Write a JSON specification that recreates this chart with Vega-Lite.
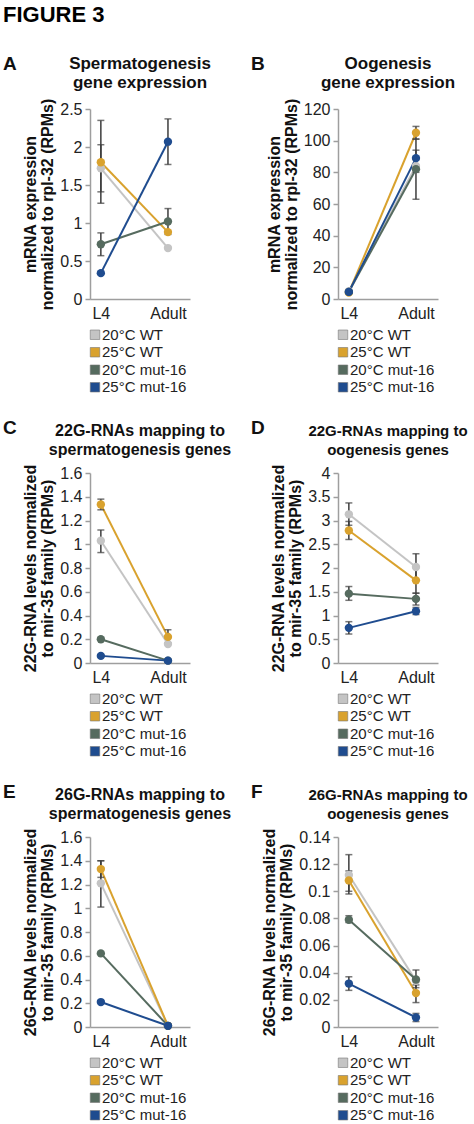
{
  "$schema": "https://vega.github.io/schema/vega-lite/v6.json",
  "title": {"text": "FIGURE 3", "anchor": "start", "fontSize": 22, "fontWeight": "bold", "offset": 28, "color": "#000"},
  "padding": {"left": 3, "top": 4, "right": 0, "bottom": 5},
  "columns": 4,
  "bounds": "flush",
  "align": "each",
  "spacing": {"row": 27, "column": 61},
  "resolve": {
    "scale": {"color": "independent", "stroke": "independent", "y": "independent", "x": "independent"}
  },
  "datasets": {
    "groups": [
      {"group": "20°C WT"},
      {"group": "25°C WT"},
      {"group": "20°C mut-16"},
      {"group": "25°C mut-16"}
    ],
    "a": [
      {"stage": "L4", "group": "20°C WT", "value": 1.72, "lo": 1.41, "hi": 2.03},
      {"stage": "Adult", "group": "20°C WT", "value": 0.67},
      {"stage": "L4", "group": "25°C WT", "value": 1.8, "lo": 1.26, "hi": 2.35},
      {"stage": "Adult", "group": "25°C WT", "value": 0.88},
      {"stage": "L4", "group": "20°C mut-16", "value": 0.72, "lo": 0.57, "hi": 0.87},
      {"stage": "Adult", "group": "20°C mut-16", "value": 1.02, "lo": 0.85, "hi": 1.19},
      {"stage": "L4", "group": "25°C mut-16", "value": 0.34},
      {"stage": "Adult", "group": "25°C mut-16", "value": 2.07, "lo": 1.77, "hi": 2.37}
    ],
    "b": [
      {"stage": "L4", "group": "20°C WT", "value": 5},
      {"stage": "Adult", "group": "20°C WT", "value": 84, "lo": 80, "hi": 88},
      {"stage": "L4", "group": "25°C WT", "value": 4},
      {"stage": "Adult", "group": "25°C WT", "value": 105, "lo": 101, "hi": 109},
      {"stage": "L4", "group": "20°C mut-16", "value": 4.5},
      {"stage": "Adult", "group": "20°C mut-16", "value": 82, "lo": 63, "hi": 101},
      {"stage": "L4", "group": "25°C mut-16", "value": 4.5},
      {"stage": "Adult", "group": "25°C mut-16", "value": 89, "lo": 84, "hi": 94}
    ],
    "c": [
      {"stage": "L4", "group": "20°C WT", "value": 1.03, "lo": 0.93, "hi": 1.12},
      {"stage": "Adult", "group": "20°C WT", "value": 0.16},
      {"stage": "L4", "group": "25°C WT", "value": 1.335, "lo": 1.29, "hi": 1.38},
      {"stage": "Adult", "group": "25°C WT", "value": 0.22, "lo": 0.17, "hi": 0.28},
      {"stage": "L4", "group": "20°C mut-16", "value": 0.2},
      {"stage": "Adult", "group": "20°C mut-16", "value": 0.02},
      {"stage": "L4", "group": "25°C mut-16", "value": 0.06},
      {"stage": "Adult", "group": "25°C mut-16", "value": 0.02}
    ],
    "d": [
      {"stage": "L4", "group": "20°C WT", "value": 3.13, "lo": 2.9, "hi": 3.37},
      {"stage": "Adult", "group": "20°C WT", "value": 2.02, "lo": 1.75, "hi": 2.3},
      {"stage": "L4", "group": "25°C WT", "value": 2.79, "lo": 2.6, "hi": 2.98},
      {"stage": "Adult", "group": "25°C WT", "value": 1.74, "lo": 1.47, "hi": 2.01},
      {"stage": "L4", "group": "20°C mut-16", "value": 1.46, "lo": 1.32, "hi": 1.61},
      {"stage": "Adult", "group": "20°C mut-16", "value": 1.35, "lo": 1.22, "hi": 1.47},
      {"stage": "L4", "group": "25°C mut-16", "value": 0.74, "lo": 0.61, "hi": 0.87},
      {"stage": "Adult", "group": "25°C mut-16", "value": 1.09, "lo": 1.02, "hi": 1.17}
    ],
    "e": [
      {"stage": "L4", "group": "20°C WT", "value": 1.21, "lo": 1.01, "hi": 1.4},
      {"stage": "Adult", "group": "20°C WT", "value": 0.01},
      {"stage": "L4", "group": "25°C WT", "value": 1.33, "lo": 1.26, "hi": 1.4},
      {"stage": "Adult", "group": "25°C WT", "value": 0.01},
      {"stage": "L4", "group": "20°C mut-16", "value": 0.62},
      {"stage": "Adult", "group": "20°C mut-16", "value": 0.01},
      {"stage": "L4", "group": "25°C mut-16", "value": 0.21},
      {"stage": "Adult", "group": "25°C mut-16", "value": 0.01}
    ],
    "f": [
      {"stage": "L4", "group": "20°C WT", "value": 0.112, "lo": 0.098, "hi": 0.127},
      {"stage": "Adult", "group": "20°C WT", "value": 0.034},
      {"stage": "L4", "group": "25°C WT", "value": 0.108, "lo": 0.1, "hi": 0.115},
      {"stage": "Adult", "group": "25°C WT", "value": 0.025, "lo": 0.018, "hi": 0.031},
      {"stage": "L4", "group": "20°C mut-16", "value": 0.079, "lo": 0.077, "hi": 0.082},
      {"stage": "Adult", "group": "20°C mut-16", "value": 0.035, "lo": 0.029, "hi": 0.042},
      {"stage": "L4", "group": "25°C mut-16", "value": 0.032, "lo": 0.027, "hi": 0.037},
      {"stage": "Adult", "group": "25°C mut-16", "value": 0.007, "lo": 0.004, "hi": 0.01}
    ],
    "blank": [{"k": 1}]
  },
  "concat": [
    {"width": 26, "height": 190, "data": {"name": "blank"}, "title": {"text": "A", "anchor": "start", "fontSize": 19, "offset": 35}, "mark": "text", "encoding": {"text": {"value": ""}}},
    {
      "width": 100, "height": 190,
      "title": {"text": ["Spermatogenesis", "gene expression"], "fontSize": 17},
      "data": {"name": "a"},
      "encoding": {"x": {"field": "stage", "type": "ordinal", "sort": ["L4", "Adult"], "title": null, "scale": {"type": "point", "padding": 0.245, "align": 0.33}}},
      "layer": [
        {"mark": {"type": "line", "strokeWidth": 2}, "encoding": {
          "y": {"field": "value", "type": "quantitative", "title": ["mRNA expression", "normalized to rpl-32 (RPMs)"], "scale": {"domain": [0, 2.5], "nice": false}, "axis": {"values": [0, 0.5, 1, 1.5, 2, 2.5], "labelOverlap": false, "format": "~r"}},
          "stroke": {"field": "group", "type": "nominal", "legend": null, "scale": {"domain": ["20°C WT", "25°C WT", "20°C mut-16", "25°C mut-16"], "range": ["#c4c4c4", "#d9a22e", "#566b5f", "#1f4c8f"]}}}},
        {"transform": [{"filter": "isValid(datum.lo)"}], "mark": {"type": "errorbar", "ticks": true, "size": 7, "thickness": 1.5, "color": "#3d3d3d"}, "encoding": {
          "y": {"field": "lo", "type": "quantitative", "title": ["mRNA expression", "normalized to rpl-32 (RPMs)"], "axis": {"values": [0, 0.5, 1, 1.5, 2, 2.5], "labelOverlap": false, "format": "~r"}},
          "y2": {"field": "hi"}}},
        {"mark": {"type": "circle", "size": 70, "opacity": 1}, "encoding": {
          "y": {"field": "value", "type": "quantitative", "title": ["mRNA expression", "normalized to rpl-32 (RPMs)"], "axis": {"values": [0, 0.5, 1, 1.5, 2, 2.5], "labelOverlap": false, "format": "~r"}},
          "color": {"field": "group", "type": "nominal", "legend": null, "scale": {"domain": ["20°C WT", "25°C WT", "20°C mut-16", "25°C mut-16"], "range": ["#c4c4c4", "#d9a22e", "#566b5f", "#1f4c8f"]}}}}
      ]
    },
    {"width": 26, "height": 190, "data": {"name": "blank"}, "title": {"text": "B", "anchor": "start", "fontSize": 19, "offset": 35}, "mark": "text", "encoding": {"text": {"value": ""}}},
    {
      "width": 100, "height": 190,
      "title": {"text": ["Oogenesis", "gene expression"], "fontSize": 17},
      "data": {"name": "b"},
      "encoding": {"x": {"field": "stage", "type": "ordinal", "sort": ["L4", "Adult"], "title": null, "scale": {"type": "point", "padding": 0.245, "align": 0.33}}},
      "layer": [
        {"mark": {"type": "line", "strokeWidth": 2}, "encoding": {
          "y": {"field": "value", "type": "quantitative", "title": ["mRNA expression", "normalized to rpl-32 (RPMs)"], "scale": {"domain": [0, 120], "nice": false}, "axis": {"values": [0, 20, 40, 60, 80, 100, 120], "labelOverlap": false, "format": "~r"}},
          "stroke": {"field": "group", "type": "nominal", "legend": null, "scale": {"domain": ["20°C WT", "25°C WT", "20°C mut-16", "25°C mut-16"], "range": ["#c4c4c4", "#d9a22e", "#566b5f", "#1f4c8f"]}}}},
        {"transform": [{"filter": "isValid(datum.lo)"}], "mark": {"type": "errorbar", "ticks": true, "size": 7, "thickness": 1.5, "color": "#3d3d3d"}, "encoding": {
          "y": {"field": "lo", "type": "quantitative", "title": ["mRNA expression", "normalized to rpl-32 (RPMs)"], "axis": {"values": [0, 20, 40, 60, 80, 100, 120], "labelOverlap": false, "format": "~r"}},
          "y2": {"field": "hi"}}},
        {"mark": {"type": "circle", "size": 70, "opacity": 1}, "encoding": {
          "y": {"field": "value", "type": "quantitative", "title": ["mRNA expression", "normalized to rpl-32 (RPMs)"], "axis": {"values": [0, 20, 40, 60, 80, 100, 120], "labelOverlap": false, "format": "~r"}},
          "color": {"field": "group", "type": "nominal", "legend": null, "scale": {"domain": ["20°C WT", "25°C WT", "20°C mut-16", "25°C mut-16"], "range": ["#c4c4c4", "#d9a22e", "#566b5f", "#1f4c8f"]}}}}
      ]
    },
    {"width": 26, "height": 120, "data": {"name": "blank"}, "mark": "text", "encoding": {"text": {"value": ""}}},
    {
      "width": 10, "height": 70,
      "data": {"name": "groups"},
      "encoding": {"y": {"field": "group", "type": "nominal", "axis": null, "sort": null, "scale": {"type": "point", "domain": ["20°C WT", "25°C WT", "20°C mut-16", "25°C mut-16"], "padding": 0.5, "align": 0.5}}},
      "layer": [
        {"mark": {"type": "square", "size": 90, "filled": true, "opacity": 1, "stroke": "#777", "strokeWidth": 0.6}, "encoding": {"color": {"field": "group", "type": "nominal", "legend": null, "scale": {"domain": ["20°C WT", "25°C WT", "20°C mut-16", "25°C mut-16"], "range": ["#c4c4c4", "#d9a22e", "#566b5f", "#1f4c8f"]}}}},
        {"mark": {"type": "text", "align": "left", "baseline": "middle", "dx": 7, "fontSize": 15, "color": "#222"}, "encoding": {"text": {"field": "group"}}}
      ]
    },
    {"width": 26, "height": 120, "data": {"name": "blank"}, "mark": "text", "encoding": {"text": {"value": ""}}},
    {
      "width": 10, "height": 70,
      "data": {"name": "groups"},
      "encoding": {"y": {"field": "group", "type": "nominal", "axis": null, "sort": null, "scale": {"type": "point", "domain": ["20°C WT", "25°C WT", "20°C mut-16", "25°C mut-16"], "padding": 0.5, "align": 0.5}}},
      "layer": [
        {"mark": {"type": "square", "size": 90, "filled": true, "opacity": 1, "stroke": "#777", "strokeWidth": 0.6}, "encoding": {"color": {"field": "group", "type": "nominal", "legend": null, "scale": {"domain": ["20°C WT", "25°C WT", "20°C mut-16", "25°C mut-16"], "range": ["#c4c4c4", "#d9a22e", "#566b5f", "#1f4c8f"]}}}},
        {"mark": {"type": "text", "align": "left", "baseline": "middle", "dx": 7, "fontSize": 15, "color": "#222"}, "encoding": {"text": {"field": "group"}}}
      ]
    },
    {"width": 26, "height": 190, "data": {"name": "blank"}, "title": {"text": "C", "anchor": "start", "fontSize": 19, "offset": 35}, "mark": "text", "encoding": {"text": {"value": ""}}},
    {
      "width": 100, "height": 190,
      "title": {"text": ["22G-RNAs mapping to", "spermatogenesis genes"], "fontSize": 16},
      "data": {"name": "c"},
      "encoding": {"x": {"field": "stage", "type": "ordinal", "sort": ["L4", "Adult"], "title": null, "scale": {"type": "point", "padding": 0.245, "align": 0.33}}},
      "layer": [
        {"mark": {"type": "line", "strokeWidth": 2}, "encoding": {
          "y": {"field": "value", "type": "quantitative", "title": ["22G-RNA levels normalized", "to mir-35 family (RPMs)"], "scale": {"domain": [0, 1.6], "nice": false}, "axis": {"values": [0, 0.2, 0.4, 0.6, 0.8, 1, 1.2, 1.4, 1.6], "labelOverlap": false, "format": "~r"}},
          "stroke": {"field": "group", "type": "nominal", "legend": null, "scale": {"domain": ["20°C WT", "25°C WT", "20°C mut-16", "25°C mut-16"], "range": ["#c4c4c4", "#d9a22e", "#566b5f", "#1f4c8f"]}}}},
        {"transform": [{"filter": "isValid(datum.lo)"}], "mark": {"type": "errorbar", "ticks": true, "size": 7, "thickness": 1.5, "color": "#3d3d3d"}, "encoding": {
          "y": {"field": "lo", "type": "quantitative", "title": ["22G-RNA levels normalized", "to mir-35 family (RPMs)"], "axis": {"values": [0, 0.2, 0.4, 0.6, 0.8, 1, 1.2, 1.4, 1.6], "labelOverlap": false, "format": "~r"}},
          "y2": {"field": "hi"}}},
        {"mark": {"type": "circle", "size": 70, "opacity": 1}, "encoding": {
          "y": {"field": "value", "type": "quantitative", "title": ["22G-RNA levels normalized", "to mir-35 family (RPMs)"], "axis": {"values": [0, 0.2, 0.4, 0.6, 0.8, 1, 1.2, 1.4, 1.6], "labelOverlap": false, "format": "~r"}},
          "color": {"field": "group", "type": "nominal", "legend": null, "scale": {"domain": ["20°C WT", "25°C WT", "20°C mut-16", "25°C mut-16"], "range": ["#c4c4c4", "#d9a22e", "#566b5f", "#1f4c8f"]}}}}
      ]
    },
    {"width": 26, "height": 190, "data": {"name": "blank"}, "title": {"text": "D", "anchor": "start", "fontSize": 19, "offset": 35}, "mark": "text", "encoding": {"text": {"value": ""}}},
    {
      "width": 100, "height": 190,
      "title": {"text": ["22G-RNAs mapping to", "oogenesis genes"], "fontSize": 15},
      "data": {"name": "d"},
      "encoding": {"x": {"field": "stage", "type": "ordinal", "sort": ["L4", "Adult"], "title": null, "scale": {"type": "point", "padding": 0.245, "align": 0.33}}},
      "layer": [
        {"mark": {"type": "line", "strokeWidth": 2}, "encoding": {
          "y": {"field": "value", "type": "quantitative", "title": ["22G-RNA levels normalized", "to mir-35 family (RPMs)"], "scale": {"domain": [0, 4], "nice": false}, "axis": {"values": [0, 0.5, 1, 1.5, 2, 2.5, 3, 3.5, 4], "labelOverlap": false, "format": "~r"}},
          "stroke": {"field": "group", "type": "nominal", "legend": null, "scale": {"domain": ["20°C WT", "25°C WT", "20°C mut-16", "25°C mut-16"], "range": ["#c4c4c4", "#d9a22e", "#566b5f", "#1f4c8f"]}}}},
        {"transform": [{"filter": "isValid(datum.lo)"}], "mark": {"type": "errorbar", "ticks": true, "size": 7, "thickness": 1.5, "color": "#3d3d3d"}, "encoding": {
          "y": {"field": "lo", "type": "quantitative", "title": ["22G-RNA levels normalized", "to mir-35 family (RPMs)"], "axis": {"values": [0, 0.5, 1, 1.5, 2, 2.5, 3, 3.5, 4], "labelOverlap": false, "format": "~r"}},
          "y2": {"field": "hi"}}},
        {"mark": {"type": "circle", "size": 70, "opacity": 1}, "encoding": {
          "y": {"field": "value", "type": "quantitative", "title": ["22G-RNA levels normalized", "to mir-35 family (RPMs)"], "axis": {"values": [0, 0.5, 1, 1.5, 2, 2.5, 3, 3.5, 4], "labelOverlap": false, "format": "~r"}},
          "color": {"field": "group", "type": "nominal", "legend": null, "scale": {"domain": ["20°C WT", "25°C WT", "20°C mut-16", "25°C mut-16"], "range": ["#c4c4c4", "#d9a22e", "#566b5f", "#1f4c8f"]}}}}
      ]
    },
    {"width": 26, "height": 120, "data": {"name": "blank"}, "mark": "text", "encoding": {"text": {"value": ""}}},
    {
      "width": 10, "height": 70,
      "data": {"name": "groups"},
      "encoding": {"y": {"field": "group", "type": "nominal", "axis": null, "sort": null, "scale": {"type": "point", "domain": ["20°C WT", "25°C WT", "20°C mut-16", "25°C mut-16"], "padding": 0.5, "align": 0.5}}},
      "layer": [
        {"mark": {"type": "square", "size": 90, "filled": true, "opacity": 1, "stroke": "#777", "strokeWidth": 0.6}, "encoding": {"color": {"field": "group", "type": "nominal", "legend": null, "scale": {"domain": ["20°C WT", "25°C WT", "20°C mut-16", "25°C mut-16"], "range": ["#c4c4c4", "#d9a22e", "#566b5f", "#1f4c8f"]}}}},
        {"mark": {"type": "text", "align": "left", "baseline": "middle", "dx": 7, "fontSize": 15, "color": "#222"}, "encoding": {"text": {"field": "group"}}}
      ]
    },
    {"width": 26, "height": 120, "data": {"name": "blank"}, "mark": "text", "encoding": {"text": {"value": ""}}},
    {
      "width": 10, "height": 70,
      "data": {"name": "groups"},
      "encoding": {"y": {"field": "group", "type": "nominal", "axis": null, "sort": null, "scale": {"type": "point", "domain": ["20°C WT", "25°C WT", "20°C mut-16", "25°C mut-16"], "padding": 0.5, "align": 0.5}}},
      "layer": [
        {"mark": {"type": "square", "size": 90, "filled": true, "opacity": 1, "stroke": "#777", "strokeWidth": 0.6}, "encoding": {"color": {"field": "group", "type": "nominal", "legend": null, "scale": {"domain": ["20°C WT", "25°C WT", "20°C mut-16", "25°C mut-16"], "range": ["#c4c4c4", "#d9a22e", "#566b5f", "#1f4c8f"]}}}},
        {"mark": {"type": "text", "align": "left", "baseline": "middle", "dx": 7, "fontSize": 15, "color": "#222"}, "encoding": {"text": {"field": "group"}}}
      ]
    },
    {"width": 26, "height": 190, "data": {"name": "blank"}, "title": {"text": "E", "anchor": "start", "fontSize": 19, "offset": 35}, "mark": "text", "encoding": {"text": {"value": ""}}},
    {
      "width": 100, "height": 190,
      "title": {"text": ["26G-RNAs mapping to", "spermatogenesis genes"], "fontSize": 16},
      "data": {"name": "e"},
      "encoding": {"x": {"field": "stage", "type": "ordinal", "sort": ["L4", "Adult"], "title": null, "scale": {"type": "point", "padding": 0.245, "align": 0.33}}},
      "layer": [
        {"mark": {"type": "line", "strokeWidth": 2}, "encoding": {
          "y": {"field": "value", "type": "quantitative", "title": ["26G-RNA levels normalized", "to mir-35 family (RPMs)"], "scale": {"domain": [0, 1.6], "nice": false}, "axis": {"values": [0, 0.2, 0.4, 0.6, 0.8, 1, 1.2, 1.4, 1.6], "labelOverlap": false, "format": "~r"}},
          "stroke": {"field": "group", "type": "nominal", "legend": null, "scale": {"domain": ["20°C WT", "25°C WT", "20°C mut-16", "25°C mut-16"], "range": ["#c4c4c4", "#d9a22e", "#566b5f", "#1f4c8f"]}}}},
        {"transform": [{"filter": "isValid(datum.lo)"}], "mark": {"type": "errorbar", "ticks": true, "size": 7, "thickness": 1.5, "color": "#3d3d3d"}, "encoding": {
          "y": {"field": "lo", "type": "quantitative", "title": ["26G-RNA levels normalized", "to mir-35 family (RPMs)"], "axis": {"values": [0, 0.2, 0.4, 0.6, 0.8, 1, 1.2, 1.4, 1.6], "labelOverlap": false, "format": "~r"}},
          "y2": {"field": "hi"}}},
        {"mark": {"type": "circle", "size": 70, "opacity": 1}, "encoding": {
          "y": {"field": "value", "type": "quantitative", "title": ["26G-RNA levels normalized", "to mir-35 family (RPMs)"], "axis": {"values": [0, 0.2, 0.4, 0.6, 0.8, 1, 1.2, 1.4, 1.6], "labelOverlap": false, "format": "~r"}},
          "color": {"field": "group", "type": "nominal", "legend": null, "scale": {"domain": ["20°C WT", "25°C WT", "20°C mut-16", "25°C mut-16"], "range": ["#c4c4c4", "#d9a22e", "#566b5f", "#1f4c8f"]}}}}
      ]
    },
    {"width": 26, "height": 190, "data": {"name": "blank"}, "title": {"text": "F", "anchor": "start", "fontSize": 19, "offset": 35}, "mark": "text", "encoding": {"text": {"value": ""}}},
    {
      "width": 100, "height": 190,
      "title": {"text": ["26G-RNAs mapping to", "oogenesis genes"], "fontSize": 15},
      "data": {"name": "f"},
      "encoding": {"x": {"field": "stage", "type": "ordinal", "sort": ["L4", "Adult"], "title": null, "scale": {"type": "point", "padding": 0.245, "align": 0.33}}},
      "layer": [
        {"mark": {"type": "line", "strokeWidth": 2}, "encoding": {
          "y": {"field": "value", "type": "quantitative", "title": ["26G-RNA levels normalized", "to mir-35 family (RPMs)"], "scale": {"domain": [0, 0.14], "nice": false}, "axis": {"values": [0, 0.02, 0.04, 0.06, 0.08, 0.1, 0.12, 0.14], "labelOverlap": false, "format": "~r"}},
          "stroke": {"field": "group", "type": "nominal", "legend": null, "scale": {"domain": ["20°C WT", "25°C WT", "20°C mut-16", "25°C mut-16"], "range": ["#c4c4c4", "#d9a22e", "#566b5f", "#1f4c8f"]}}}},
        {"transform": [{"filter": "isValid(datum.lo)"}], "mark": {"type": "errorbar", "ticks": true, "size": 7, "thickness": 1.5, "color": "#3d3d3d"}, "encoding": {
          "y": {"field": "lo", "type": "quantitative", "title": ["26G-RNA levels normalized", "to mir-35 family (RPMs)"], "axis": {"values": [0, 0.02, 0.04, 0.06, 0.08, 0.1, 0.12, 0.14], "labelOverlap": false, "format": "~r"}},
          "y2": {"field": "hi"}}},
        {"mark": {"type": "circle", "size": 70, "opacity": 1}, "encoding": {
          "y": {"field": "value", "type": "quantitative", "title": ["26G-RNA levels normalized", "to mir-35 family (RPMs)"], "axis": {"values": [0, 0.02, 0.04, 0.06, 0.08, 0.1, 0.12, 0.14], "labelOverlap": false, "format": "~r"}},
          "color": {"field": "group", "type": "nominal", "legend": null, "scale": {"domain": ["20°C WT", "25°C WT", "20°C mut-16", "25°C mut-16"], "range": ["#c4c4c4", "#d9a22e", "#566b5f", "#1f4c8f"]}}}}
      ]
    },
    {"width": 26, "height": 70, "data": {"name": "blank"}, "mark": "text", "encoding": {"text": {"value": ""}}},
    {
      "width": 10, "height": 70,
      "data": {"name": "groups"},
      "encoding": {"y": {"field": "group", "type": "nominal", "axis": null, "sort": null, "scale": {"type": "point", "domain": ["20°C WT", "25°C WT", "20°C mut-16", "25°C mut-16"], "padding": 0.5, "align": 0.5}}},
      "layer": [
        {"mark": {"type": "square", "size": 90, "filled": true, "opacity": 1, "stroke": "#777", "strokeWidth": 0.6}, "encoding": {"color": {"field": "group", "type": "nominal", "legend": null, "scale": {"domain": ["20°C WT", "25°C WT", "20°C mut-16", "25°C mut-16"], "range": ["#c4c4c4", "#d9a22e", "#566b5f", "#1f4c8f"]}}}},
        {"mark": {"type": "text", "align": "left", "baseline": "middle", "dx": 7, "fontSize": 15, "color": "#222"}, "encoding": {"text": {"field": "group"}}}
      ]
    },
    {"width": 26, "height": 70, "data": {"name": "blank"}, "mark": "text", "encoding": {"text": {"value": ""}}},
    {
      "width": 10, "height": 70,
      "data": {"name": "groups"},
      "encoding": {"y": {"field": "group", "type": "nominal", "axis": null, "sort": null, "scale": {"type": "point", "domain": ["20°C WT", "25°C WT", "20°C mut-16", "25°C mut-16"], "padding": 0.5, "align": 0.5}}},
      "layer": [
        {"mark": {"type": "square", "size": 90, "filled": true, "opacity": 1, "stroke": "#777", "strokeWidth": 0.6}, "encoding": {"color": {"field": "group", "type": "nominal", "legend": null, "scale": {"domain": ["20°C WT", "25°C WT", "20°C mut-16", "25°C mut-16"], "range": ["#c4c4c4", "#d9a22e", "#566b5f", "#1f4c8f"]}}}},
        {"mark": {"type": "text", "align": "left", "baseline": "middle", "dx": 7, "fontSize": 15, "color": "#222"}, "encoding": {"text": {"field": "group"}}}
      ]
    }
  ],
  "config": {
    "font": "Liberation Sans",
    "view": {"stroke": null},
    "title": {"fontSize": 16, "fontWeight": "bold", "lineHeight": 19, "offset": 6, "anchor": "middle", "frame": "group", "color": "#111"},
    "axis": {
      "grid": false,
      "domainColor": "#9e9e9e",
      "domainWidth": 1.5,
      "tickColor": "#9e9e9e",
      "tickWidth": 1.5,
      "labelFontSize": 16,
      "labelColor": "#222",
      "titleFontSize": 16,
      "titleFontWeight": "bold",
      "titleColor": "#111",
      "titleLineHeight": 17
    },
    "axisY": {"tickSize": 5, "labelPadding": 3, "titlePadding": 4},
    "axisX": {"ticks": false, "labelPadding": 6, "labelAngle": 0}
  }
}
